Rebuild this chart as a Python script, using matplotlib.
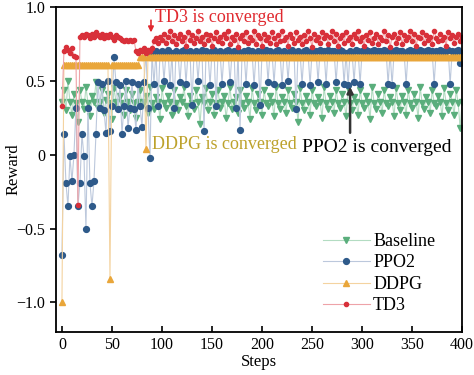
import numpy as np
import matplotlib
matplotlib.use('Agg')
import matplotlib.pyplot as plt

plt.rcParams['font.family'] = ['Liberation Serif', 'DejaVu Serif']

# steps 0, 2, 4, ..., 400
steps = np.arange(0, 401, 2)

baseline = [
    0.36, 0.44, 0.30, 0.50, 0.36, 0.27, 0.41, 0.35, 0.22, 0.44,
    0.36, 0.31, 0.46, 0.35, 0.26, 0.40, 0.36, 0.49, 0.32, 0.36,
    0.44, 0.28, 0.37, 0.41, 0.35, 0.24, 0.45, 0.36, 0.31, 0.40,
    0.35, 0.27, 0.44, 0.36, 0.30, 0.41, 0.35, 0.25, 0.36, 0.44,
    0.33, 0.36, 0.40, 0.28, 0.46, 0.35, 0.31, 0.39, 0.36, 0.24,
    0.45, 0.35, 0.32, 0.40, 0.36, 0.27, 0.44, 0.35, 0.30, 0.39,
    0.36, 0.46, 0.33, 0.26, 0.40, 0.35, 0.31, 0.44, 0.36, 0.21,
    0.39, 0.35, 0.45, 0.30, 0.36, 0.41, 0.27, 0.35, 0.44, 0.32,
    0.36, 0.40, 0.25, 0.35, 0.46, 0.31, 0.36, 0.39, 0.28, 0.44,
    0.35, 0.32, 0.40, 0.36, 0.24, 0.45, 0.35, 0.30, 0.41, 0.36,
    0.27, 0.44, 0.35, 0.33, 0.40, 0.36, 0.26, 0.46, 0.35, 0.31,
    0.39, 0.36, 0.28, 0.44, 0.35, 0.32, 0.41, 0.36, 0.22, 0.45,
    0.35, 0.30, 0.40, 0.36, 0.27, 0.44, 0.35, 0.33, 0.39, 0.36,
    0.25, 0.46, 0.35, 0.31, 0.40, 0.36, 0.28, 0.44, 0.35, 0.32,
    0.41, 0.36, 0.26, 0.45, 0.35, 0.30, 0.39, 0.36, 0.27, 0.44,
    0.35, 0.32, 0.40, 0.36, 0.24, 0.46, 0.35, 0.31, 0.41, 0.36,
    0.28, 0.44, 0.35, 0.33, 0.39, 0.36, 0.26, 0.45, 0.35, 0.30,
    0.40, 0.36, 0.27, 0.44, 0.35, 0.32, 0.41, 0.36, 0.25, 0.46,
    0.35, 0.31, 0.39, 0.36, 0.28, 0.44, 0.35, 0.33, 0.40, 0.36,
    0.26, 0.45, 0.35, 0.30, 0.41, 0.36, 0.27, 0.44, 0.35, 0.18,
    0.36,
]

ppo2 = [
    -0.68, 0.14, -0.19, -0.35, -0.01, -0.18, 0.00, 0.32, -0.35, -0.19,
    0.14, -0.01, -0.50, 0.32, -0.19, -0.35, -0.18, 0.14, 0.49, 0.32,
    0.48, 0.30, 0.15, 0.50, 0.16, 0.33, 0.66, 0.49, 0.31, 0.47,
    0.14, 0.33, 0.50, 0.18, 0.32, 0.49, 0.31, 0.17, 0.48, 0.33,
    0.19, 0.49, 0.70, 0.32, -0.02, 0.69, 0.48, 0.70, 0.33, 0.69,
    0.70, 0.50, 0.69, 0.71, 0.47, 0.69, 0.32, 0.70, 0.69, 0.49,
    0.70, 0.71, 0.48, 0.69, 0.70, 0.34, 0.69, 0.70, 0.50, 0.69,
    0.71, 0.16, 0.70, 0.69, 0.47, 0.70, 0.71, 0.33, 0.69, 0.70,
    0.48, 0.69, 0.70, 0.71, 0.49, 0.69, 0.70, 0.32, 0.70, 0.17,
    0.69, 0.70, 0.48, 0.71, 0.69, 0.70, 0.47, 0.69, 0.70, 0.34,
    0.70, 0.69, 0.71, 0.49, 0.70, 0.69, 0.48, 0.70, 0.71, 0.69,
    0.47, 0.70, 0.69, 0.50, 0.70, 0.71, 0.69, 0.31, 0.70, 0.69,
    0.48, 0.70, 0.71, 0.69, 0.47, 0.70, 0.69, 0.70, 0.49, 0.71,
    0.69, 0.70, 0.48, 0.71, 0.69, 0.70, 0.70, 0.49, 0.69, 0.71,
    0.70, 0.48, 0.69, 0.47, 0.70, 0.69, 0.49, 0.71, 0.70, 0.48,
    0.70, 0.69, 0.71, 0.70, 0.69, 0.70, 0.71, 0.69, 0.70, 0.70,
    0.69, 0.71, 0.70, 0.48, 0.69, 0.47, 0.70, 0.71, 0.69, 0.70,
    0.70, 0.69, 0.48, 0.70, 0.71, 0.69, 0.70, 0.70, 0.69, 0.71,
    0.70, 0.69, 0.70, 0.71, 0.69, 0.70, 0.48, 0.70, 0.69, 0.71,
    0.70, 0.69, 0.70, 0.71, 0.48, 0.70, 0.69, 0.70, 0.71, 0.62,
    0.69,
]

ddpg = [
    -1.00, 0.61, 0.61, 0.61, 0.61, 0.61, 0.61, 0.61, 0.61, 0.61,
    0.61, 0.61, 0.61, 0.61, 0.61, 0.61, 0.61, 0.61, 0.61, 0.61,
    0.61, 0.61, 0.61, 0.61, -0.84, 0.61, 0.61, 0.61, 0.61, 0.61,
    0.61, 0.61, 0.61, 0.61, 0.61, 0.61, 0.61, 0.61, 0.61, 0.66,
    0.66, 0.66, 0.04, 0.66, 0.66, 0.66, 0.66, 0.66, 0.66, 0.66,
    0.66, 0.66, 0.66, 0.66, 0.66, 0.66, 0.66, 0.66, 0.66, 0.66,
    0.66, 0.66, 0.66, 0.66, 0.66, 0.66, 0.66, 0.66, 0.66, 0.66,
    0.66, 0.66, 0.66, 0.66, 0.66, 0.66, 0.66, 0.66, 0.66, 0.66,
    0.66, 0.66, 0.66, 0.66, 0.66, 0.66, 0.66, 0.66, 0.66, 0.66,
    0.66, 0.66, 0.66, 0.66, 0.66, 0.66, 0.66, 0.66, 0.66, 0.66,
    0.66, 0.66, 0.66, 0.66, 0.66, 0.66, 0.66, 0.66, 0.66, 0.66,
    0.66, 0.66, 0.66, 0.66, 0.66, 0.66, 0.66, 0.66, 0.66, 0.66,
    0.66, 0.66, 0.66, 0.66, 0.66, 0.66, 0.66, 0.66, 0.66, 0.66,
    0.66, 0.66, 0.66, 0.66, 0.66, 0.66, 0.66, 0.66, 0.66, 0.66,
    0.66, 0.66, 0.66, 0.66, 0.66, 0.66, 0.66, 0.66, 0.66, 0.66,
    0.66, 0.66, 0.66, 0.66, 0.66, 0.66, 0.66, 0.66, 0.66, 0.66,
    0.66, 0.66, 0.66, 0.66, 0.66, 0.66, 0.66, 0.66, 0.66, 0.66,
    0.66, 0.66, 0.66, 0.66, 0.66, 0.66, 0.66, 0.66, 0.66, 0.66,
    0.66, 0.66, 0.66, 0.66, 0.66, 0.66, 0.66, 0.66, 0.66, 0.66,
    0.66, 0.66, 0.66, 0.66, 0.66, 0.66, 0.66, 0.66, 0.66, 0.66,
    0.66,
]

td3 = [
    0.33, 0.70, 0.73, 0.71, 0.69, 0.72, 0.67, 0.66, -0.34, 0.80,
    0.81, 0.80, 0.82, 0.81, 0.79, 0.82, 0.80, 0.83, 0.81, 0.80,
    0.82, 0.79, 0.81, 0.80, 0.82, 0.80, 0.78, 0.81, 0.80, 0.79,
    0.78, 0.77, 0.78, 0.77, 0.78, 0.77, 0.78, 0.70, 0.69, 0.71,
    0.70, 0.72, 0.69, 0.71, 0.70, 0.72, 0.77, 0.79, 0.76, 0.80,
    0.78, 0.82, 0.76, 0.80, 0.84, 0.77, 0.81, 0.75, 0.79, 0.82,
    0.77, 0.80, 0.74, 0.83, 0.78, 0.81, 0.76, 0.79, 0.84, 0.77,
    0.80, 0.75, 0.82, 0.78, 0.81, 0.74, 0.79, 0.83, 0.77, 0.80,
    0.76, 0.82, 0.79, 0.84, 0.75, 0.80, 0.78, 0.82, 0.73, 0.79,
    0.81, 0.77, 0.83, 0.76, 0.80, 0.78, 0.84, 0.75, 0.81, 0.79,
    0.74, 0.82, 0.78, 0.80, 0.76, 0.83, 0.79, 0.75, 0.81, 0.77,
    0.84, 0.78, 0.80, 0.74, 0.82, 0.79, 0.76, 0.83, 0.78, 0.80,
    0.75, 0.81, 0.77, 0.84, 0.79, 0.73, 0.82, 0.78, 0.80, 0.76,
    0.83, 0.79, 0.81, 0.75, 0.80, 0.84, 0.77, 0.82, 0.74, 0.79,
    0.81, 0.76, 0.83, 0.78, 0.80, 0.75, 0.82, 0.79, 0.84, 0.77,
    0.80, 0.74, 0.81, 0.78, 0.83, 0.76, 0.79, 0.82, 0.75, 0.80,
    0.78, 0.84, 0.77, 0.81, 0.73, 0.80, 0.82, 0.76, 0.79, 0.83,
    0.75, 0.81, 0.78, 0.80, 0.84, 0.77, 0.82, 0.74, 0.80, 0.79,
    0.83, 0.76, 0.81, 0.78, 0.80, 0.75, 0.84, 0.79, 0.77, 0.82,
    0.78, 0.80, 0.74, 0.83, 0.79, 0.81, 0.76, 0.80, 0.82, 0.77,
    0.80,
]

xtick_vals = [0, 50, 100, 150, 200, 250, 300, 350, 400]
ytick_vals = [-1.0, -0.5, 0, 0.5, 1.0]
ytick_labels = ['\u22121.0', '\u22120.5', '0', '0.5', '1.0']

fig = plt.figure(figsize=(4.74, 3.75), dpi=100)
ax = fig.add_axes([0.118, 0.115, 0.857, 0.866])

ax.plot(steps, baseline, '-', color='#b3dcc2', lw=0.8, marker='v', ms=3.8,
        mfc='#5aae7c', mec='#5aae7c', label='Baseline')
ax.plot(steps, ppo2, '-', color='#bcc8dc', lw=0.8, marker='o', ms=4.2,
        mfc='#2e5a8a', mec='#2e5a8a', label='PPO2')
ax.plot(steps, ddpg, '-', color='#f4d3a0', lw=0.8, marker='^', ms=4.5,
        mfc='#e9a63a', mec='#e9a63a', label='DDPG')
ax.plot(steps, td3, '-', color='#eea3a8', lw=0.8, marker='o', ms=3.0,
        mfc='#d8303a', mec='#d8303a', label='TD3')

# annotations
ax.annotate('', xy=(89, 0.81), xytext=(89, 0.93),
            arrowprops=dict(arrowstyle='-|>', color='#e02a30', lw=1.2, mutation_scale=8))
ax.text(93, 0.93, 'TD3 is converged', color='#e02a30', fontsize=13, va='center', ha='left')
ax.text(90, 0.07, 'DDPG is converged', color='#bda22c', fontsize=13, va='center', ha='left')
ax.annotate('', xy=(288, 0.48), xytext=(288, 0.13),
            arrowprops=dict(arrowstyle='-|>', color='#333333', lw=1.8, mutation_scale=9))
ax.text(240, 0.05, 'PPO2 is converged', color='black', fontsize=14, va='center', ha='left')

ax.set_xlim(-6, 400)
ax.set_ylim(-1.2, 1.0)
ax.set_xticks(xtick_vals)
ax.set_yticks(ytick_vals)
ax.set_yticklabels(ytick_labels)
ax.tick_params(axis='x', direction='in', length=4, width=1.2, labelsize=11.5)
ax.tick_params(axis='y', direction='out', length=4, width=1.2, labelsize=11.5)
for s in ax.spines.values():
    s.set_linewidth(1.3)

ax.set_xlabel('Steps', fontsize=12, labelpad=1)
ax.set_ylabel('Reward', fontsize=12)
ax.yaxis.set_label_coords(-0.085, 0.5)

ax.legend(loc='lower right', bbox_to_anchor=(0.965, 0.015), frameon=False, fontsize=13,
          handlelength=2.6, handletextpad=0.2, labelspacing=0.25, borderpad=0.2)

plt.savefig('out.png', dpi=100)
